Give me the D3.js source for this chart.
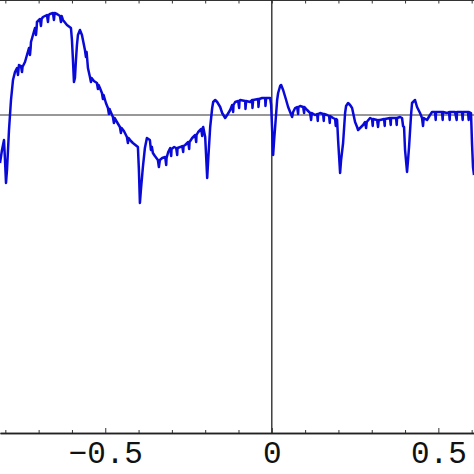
<!DOCTYPE html>
<html>
<head>
<meta charset="utf-8">
<script src="https://cdn.jsdelivr.net/npm/d3@7"></script>
<style>
  body { margin: 0; background: #fff; }
  svg { display: block; }
  .tick text { font-family: "Liberation Mono", monospace; font-size: 31px; fill: #111; }
</style>
</head>
<body>
<div id="chart"></div>
<script>
// signal samples
var xs = [-0.816,-0.810,-0.804,-0.801,-0.798,-0.795,-0.792,-0.789,-0.786,-0.783,-0.780,-0.777,-0.771,-0.765,-0.762,-0.760,-0.759,-0.753,-0.750,-0.748,-0.747,-0.741,-0.735,-0.729,-0.726,-0.724,-0.723,-0.717,-0.711,-0.708,-0.706,-0.705,-0.696,-0.693,-0.691,-0.687,-0.675,-0.672,-0.670,-0.666,-0.657,-0.654,-0.652,-0.645,-0.636,-0.633,-0.631,-0.627,-0.615,-0.603,-0.600,-0.597,-0.594,-0.591,-0.588,-0.585,-0.582,-0.576,-0.570,-0.561,-0.558,-0.556,-0.552,-0.546,-0.543,-0.541,-0.534,-0.525,-0.522,-0.520,-0.516,-0.510,-0.507,-0.505,-0.498,-0.492,-0.489,-0.487,-0.486,-0.477,-0.474,-0.472,-0.465,-0.456,-0.453,-0.451,-0.444,-0.435,-0.432,-0.430,-0.423,-0.417,-0.402,-0.399,-0.396,-0.393,-0.387,-0.381,-0.375,-0.366,-0.363,-0.360,-0.357,-0.351,-0.342,-0.339,-0.336,-0.329,-0.320,-0.317,-0.316,-0.311,-0.305,-0.302,-0.301,-0.293,-0.287,-0.284,-0.283,-0.275,-0.269,-0.266,-0.265,-0.260,-0.251,-0.248,-0.247,-0.239,-0.230,-0.227,-0.226,-0.221,-0.212,-0.209,-0.208,-0.206,-0.200,-0.194,-0.191,-0.185,-0.179,-0.176,-0.170,-0.164,-0.155,-0.149,-0.140,-0.134,-0.125,-0.119,-0.116,-0.115,-0.110,-0.101,-0.098,-0.097,-0.095,-0.080,-0.079,-0.077,-0.065,-0.059,-0.058,-0.056,-0.041,-0.040,-0.038,-0.029,-0.020,-0.019,-0.017,-0.005,-0.002,0.001,0.004,0.007,0.010,0.016,0.019,0.025,0.028,0.034,0.043,0.049,0.055,0.061,0.064,0.070,0.076,0.079,0.080,0.085,0.094,0.097,0.098,0.106,0.115,0.118,0.120,0.130,0.136,0.138,0.139,0.145,0.154,0.156,0.157,0.166,0.172,0.174,0.175,0.184,0.190,0.192,0.193,0.196,0.199,0.205,0.208,0.214,0.220,0.223,0.229,0.235,0.241,0.250,0.256,0.259,0.265,0.274,0.280,0.283,0.285,0.295,0.301,0.303,0.304,0.316,0.319,0.321,0.325,0.337,0.339,0.340,0.355,0.357,0.358,0.373,0.375,0.376,0.385,0.391,0.394,0.397,0.400,0.406,0.409,0.412,0.418,0.421,0.430,0.436,0.445,0.451,0.454,0.456,0.466,0.475,0.481,0.490,0.492,0.493,0.505,0.511,0.513,0.514,0.526,0.532,0.534,0.535,0.550,0.555,0.556,0.571,0.573,0.574,0.583,0.589,0.591,0.592,0.598,0.601,0.604,0.607];
var ys = [-0.48,-0.35,-0.25,-0.45,-0.68,-0.55,-0.35,-0.15,0,0.15,0.25,0.35,0.43,0.47,0.40,0.47,0.50,0.49,0.43,0.49,0.49,0.53,0.60,0.67,0.60,0.67,0.73,0.80,0.87,0.80,0.87,0.93,0.96,0.89,0.96,0.98,1.00,0.93,1.00,1.01,1.02,0.95,1.02,1.01,0.99,0.93,0.99,0.95,0.90,0.87,0.75,0.55,0.33,0.37,0.55,0.70,0.80,0.85,0.80,0.65,0.58,0.63,0.47,0.38,0.33,0.37,0.34,0.32,0.26,0.30,0.27,0.22,0.16,0.20,0.12,0.07,0.01,0.06,0.05,-0.02,-0.08,-0.03,-0.07,-0.12,-0.18,-0.13,-0.16,-0.22,-0.28,-0.23,-0.26,-0.28,-0.32,-0.55,-0.88,-0.75,-0.52,-0.33,-0.23,-0.25,-0.35,-0.32,-0.38,-0.41,-0.45,-0.52,-0.45,-0.43,-0.42,-0.50,-0.43,-0.37,-0.33,-0.41,-0.34,-0.32,-0.33,-0.40,-0.33,-0.32,-0.31,-0.37,-0.31,-0.30,-0.27,-0.34,-0.27,-0.23,-0.20,-0.27,-0.20,-0.17,-0.14,-0.21,-0.14,-0.12,-0.22,-0.63,-0.45,-0.12,0.07,0.13,0.15,0.13,0.08,0.02,-0.03,0,0.05,0.10,0.03,0.10,0.13,0.14,0.07,0.14,0.15,0.14,0.06,0.14,0.13,0.15,0.07,0.15,0.16,0.08,0.16,0.17,0.17,0.09,0.17,0.17,0.10,-0.15,-0.40,-0.25,-0.12,0.15,0.22,0.29,0.30,0.25,0.15,0.08,0.03,-0.02,0.03,0.07,0.08,0.01,0.08,0.09,0.08,0.02,0.08,0.05,0.02,-0.05,0.02,0,0.01,-0.06,0.01,0.02,0.01,-0.06,0.01,0,-0.01,-0.08,-0.01,-0.03,-0.04,-0.11,-0.04,-0.05,-0.25,-0.58,-0.45,-0.28,0.02,0.09,0.12,0.10,0.07,-0.07,-0.12,-0.15,-0.13,-0.10,-0.07,-0.13,-0.07,-0.03,-0.04,-0.11,-0.04,-0.05,-0.12,-0.05,-0.05,-0.04,-0.11,-0.04,-0.03,-0.10,-0.03,-0.03,-0.10,-0.03,-0.02,-0.03,-0.11,-0.12,-0.35,-0.57,-0.45,-0.32,0,0.12,0.15,0.08,0.02,-0.03,-0.11,-0.03,-0.05,0,0.03,0.03,-0.05,0.03,0.03,0.03,-0.05,0.03,0.02,0.03,-0.05,0.03,0.03,-0.05,0.03,0.03,-0.05,0.03,0.03,0.03,-0.05,0.03,0.02,-0.28,-0.52,-0.60];

var majorTicks = [-0.5, 0, 0.5];
var minorTicks = [-0.8, -0.7, -0.6, -0.4, -0.3, -0.2, -0.1, 0.1, 0.2, 0.3, 0.4, 0.6];

var width = 474, height = 474;
var xDomain = [-0.816, 0.607], yDomain = [-3.18, 1.15];
var plotBottom = 433;

var data = xs.map((d, i) => ({ x: d, y: ys[i] }));

var x = d3.scaleLinear().domain(xDomain).range([0, width]);
var y = d3.scaleLinear().domain(yDomain).range([plotBottom, 0]);

var fmt = (d) => (d === 0 ? "0" : d3.format(".1f")(d));

var svg = d3.select("#chart")
  .append("svg")
  .attr("width", width)
  .attr("height", height);

// frame top
svg.append("line")
  .attr("x1", 0).attr("x2", width)
  .attr("y1", 0.5).attr("y2", 0.5)
  .attr("stroke", "#333").attr("stroke-width", 1.2);

// zero lines
svg.append("line")
  .attr("x1", 0).attr("x2", width)
  .attr("y1", y(0)).attr("y2", y(0))
  .attr("stroke", "#333").attr("stroke-width", 1.2);
svg.append("line")
  .attr("x1", x(0)).attr("x2", x(0))
  .attr("y1", 0).attr("y2", plotBottom)
  .attr("stroke", "#222").attr("stroke-width", 1.3);

// bottom axis: minor ticks, then major ticks with labels
var gb = svg.append("g").attr("transform", "translate(0," + plotBottom + ")");
gb.call(d3.axisBottom(x).tickValues(minorTicks).tickSize(-3).tickSizeOuter(0).tickFormat(""));
gb.append("g").call(d3.axisBottom(x).tickValues(majorTicks).tickSize(-5).tickSizeOuter(0).tickFormat(fmt));
gb.selectAll(".domain").attr("stroke", "#222").attr("stroke-width", 1.3);
gb.selectAll(".tick line").attr("stroke", "#333");
gb.selectAll(".tick text").attr("dy", null).attr("y", 30);

// top ticks pointing down
var gt = svg.append("g").attr("transform", "translate(0,0.5)");
gt.call(d3.axisTop(x).tickValues(minorTicks.concat(majorTicks)).tickSize(-3).tickFormat(""));
gt.selectAll(".domain").remove();
gt.selectAll(".tick line").attr("stroke", "#333");

// the curve
var line = d3.line().x(d => x(d.x)).y(d => y(d.y));
svg.append("path")
  .datum(data)
  .attr("fill", "none")
  .attr("stroke", "#0a0ad8")
  .attr("stroke-width", 2.5)
  .attr("stroke-linejoin", "round")
  .attr("d", line);
</script>
</body>
</html>
